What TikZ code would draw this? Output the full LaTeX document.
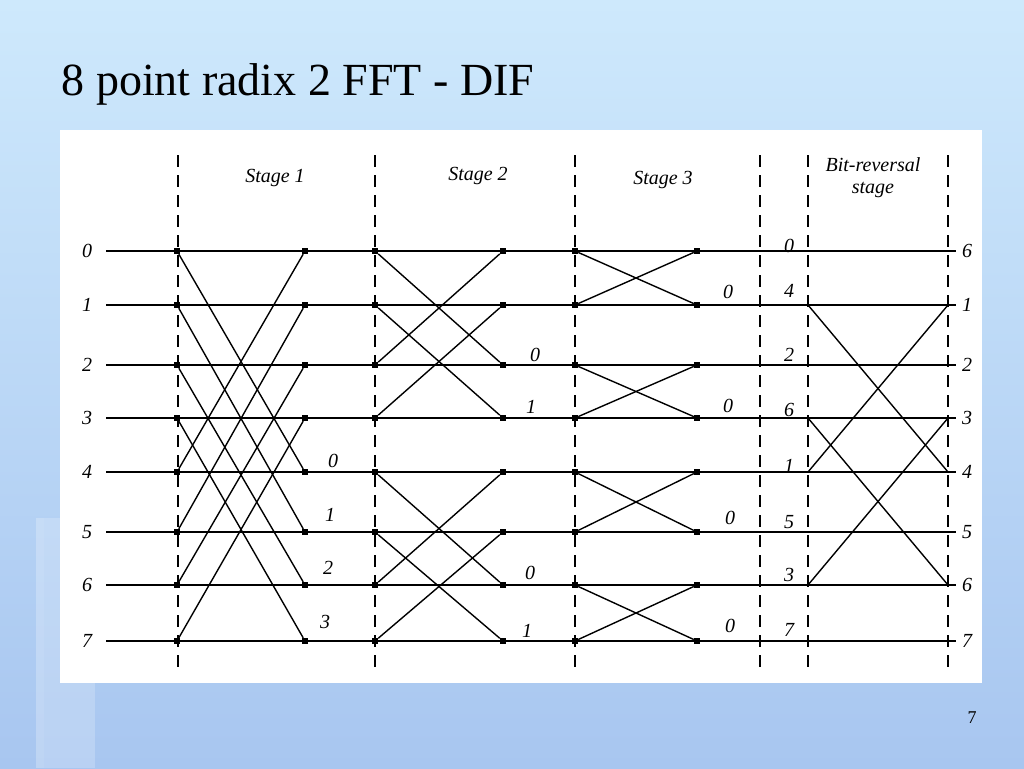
\documentclass[tikz,border=0pt]{standalone}
\usepackage{fontspec}
\setmainfont{Liberation Serif}
\begin{document}
\begin{tikzpicture}[x=1pt, y=-1pt,
  dot/.style={fill=black, inner sep=0pt, minimum size=6pt, rectangle},
  lab/.style={font=\itshape\fontsize{20}{20}\selectfont},
  wire/.style={line width=2.2pt},
  cross/.style={line width=1.4pt},
  guide/.style={line width=1.4pt, dash pattern=on 12pt off 8pt}]
  % Background and panel
  \shade[top color={rgb,255:red,206;green,233;blue,252}, bottom color={rgb,255:red,168;green,198;blue,240}]
    (0,0) rectangle (1024,768);
  \fill[white, opacity=0.25] (36,518) rectangle (44,768);
  \fill[white, opacity=0.2] (44,518) rectangle (95,768);
  \fill[white] (60,130) rectangle (982,683);
  \node[anchor=west, font=\fontsize{46}{46}\selectfont] (title) at (58,84) {8 point radix 2 FFT - DIF};
  \node[font=\fontsize{18}{18}\selectfont] (page) at (972,718) {7};

  % Dashed stage borders
  \foreach \x in {178,375,575,760,808,948}
    \draw[guide] (\x,155) -- (\x,672);

  % Stage headings
  \node[lab] (s1) at (275,178) {Stage 1};
  \node[lab] (s2) at (478,176) {Stage 2};
  \node[lab] (s3) at (663,180) {Stage 3};
  \node[lab, align=center, inner sep=0pt] (s4) at (873,178) {Bit-reversal\\[2pt]stage};

  % Wires with inputs
  \foreach \y [count=\i from 0] in {251,305,365,418,472,532,585,641} {
    \coordinate (L\i) at (106,\y);
    \coordinate (R\i) at (956,\y);
    \node[dot] (a\i) at (177,\y) {};
    \node[dot] (b\i) at (305,\y) {};
    \node[dot] (c\i) at (375,\y) {};
    \node[dot] (d\i) at (503,\y) {};
    \node[dot] (e\i) at (575,\y) {};
    \node[dot] (f\i) at (697,\y) {};
    \coordinate (g\i) at (808,\y);
    \coordinate (h\i) at (948,\y);
    \draw[wire] (L\i) -- (R\i);
    \node[lab] (in\i) at (87,\y) {\i};
  }
  % Outputs
  \foreach \i/\t/\y in {0/6/251,1/1/305,2/2/365,3/3/418,4/4/472,5/5/532,6/6/585,7/7/641}
    \node[lab] (res\i) at (967,\y) {\t};

  % Stage 1
  \foreach \i [evaluate=\i as \j using int(\i+4)] in {0,...,3} {
    \draw[cross] (a\i) -- (b\j);
    \draw[cross] (a\j) -- (b\i);
  }
  % Stage 2
  \foreach \i/\j in {0/2,1/3,4/6,5/7} {
    \draw[cross] (c\i) -- (d\j);
    \draw[cross] (c\j) -- (d\i);
  }
  % Stage 3
  \foreach \i/\j in {0/1,2/3,4/5,6/7} {
    \draw[cross] (e\i) -- (f\j);
    \draw[cross] (e\j) -- (f\i);
  }
  % Bit reversal
  \foreach \i/\j in {1/4,3/6} {
    \draw[cross] (g\i) -- (h\j);
    \draw[cross] (g\j) -- (h\i);
  }

  % Twiddle factors
  \foreach \t/\x/\y [count=\k] in {0/333/461,1/330/515,2/328/568,3/325/622,
      0/535/355,1/531/407,0/530/573,1/527/631,
      0/728/292,0/728/406,0/730/518,0/730/626}
    \node[lab] (w\k) at (\x,\y) {\t};

  % Outputs before bit reversal
  \foreach \t/\y [count=\k] in {0/246,4/291,2/355,6/410,1/466,5/522,3/575,7/630}
    \node[lab] (o\k) at (789,\y) {\t};
\end{tikzpicture}
\end{document}
